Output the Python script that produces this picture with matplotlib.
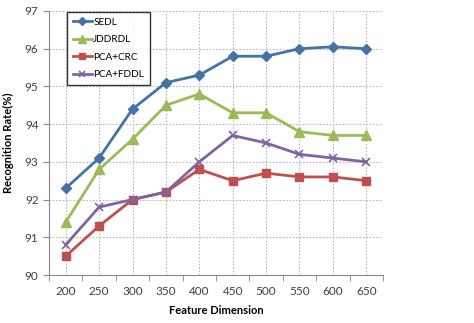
import matplotlib
matplotlib.use("Agg")
import matplotlib.pyplot as plt
import numpy as np

plt.rcParams['font.family'] = ['Lato', 'DejaVu Sans']

dims = [200, 250, 300, 350, 400, 450, 500, 550, 600, 650]
sedl = [92.3, 93.1, 94.4, 95.1, 95.3, 95.8, 95.8, 96.0, 96.05, 96.0]
jddrdl = [91.4, 92.8, 93.6, 94.5, 94.8, 94.3, 94.3, 93.8, 93.7, 93.7]
pca_crc = [90.5, 91.3, 92.0, 92.2, 92.8, 92.5, 92.7, 92.6, 92.6, 92.5]
pca_fddl = [90.8, 91.8, 92.0, 92.2, 93.0, 93.7, 93.5, 93.2, 93.1, 93.0]

fig = plt.figure(figsize=(4.74, 3.23), dpi=100)
ax = fig.add_axes([0.1034, 0.1486, 0.7046, 0.8174])

x = np.arange(len(dims))
ax.plot(x, sedl, color='#4572A7', marker='D', markersize=5, lw=2, label='SEDL')
ax.plot(x, jddrdl, color='#9BBB59', marker='^', markersize=7, lw=2, label='JDDRDL')
ax.plot(x, pca_crc, color='#C0504D', marker='s', markersize=6, lw=2, label='PCA+CRC')
ax.plot(x, pca_fddl, color='#8064A2', marker='x', markersize=6, mew=1.2, lw=2, label='PCA+FDDL')

ax.set_xlim(-0.5, len(dims) - 0.5)
ax.set_ylim(90, 97)
ax.set_yticks(range(90, 98))
ax.set_xticks(x)
ax.set_xticklabels([str(d) for d in dims])
ax.set_xticks(np.arange(-0.5, len(dims)), minor=True)

ax.grid(True, color='#b8b8b8', linestyle=(0, (1.5, 1.5)), lw=0.8)
ax.set_axisbelow(True)

for s in ['top', 'right']:
    ax.spines[s].set_visible(False)
for s in ['left', 'bottom']:
    ax.spines[s].set_color('#888888')
    ax.spines[s].set_linewidth(0.8)

ax.tick_params(axis='x', which='major', length=0, labelsize=8.5, colors='#404040', pad=8)
ax.tick_params(axis='x', which='minor', length=4, color='#888888', direction='out')
ax.tick_params(axis='y', length=4, labelsize=8.5, colors='#404040', direction='out')
ax.tick_params(axis='y', colors='#888888', labelcolor='#404040')

ax.set_xlabel('Feature Dimension', fontsize=8, fontweight='bold', labelpad=6)
ax.set_ylabel('Recognition Rate(%)', fontsize=8, fontweight='bold', labelpad=8)

leg = ax.legend(loc='upper left', bbox_to_anchor=(0.05, 1.0), fontsize=7.2,
                frameon=True, fancybox=False, labelspacing=0.85, handlelength=1.9,
                handletextpad=0.15, borderpad=0.6, borderaxespad=0.1,
                markerscale=0.8)
leg.get_frame().set_edgecolor('black')
leg.get_frame().set_linewidth(1.0)

fig.savefig('out.png', dpi=100)
